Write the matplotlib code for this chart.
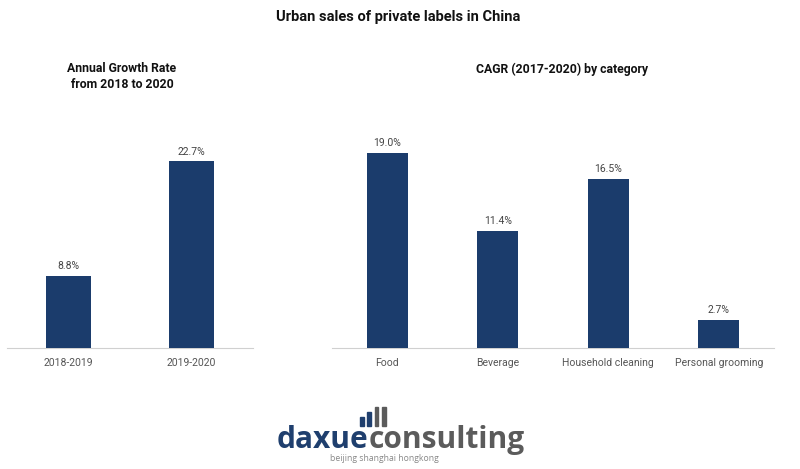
import matplotlib
matplotlib.use("Agg")
import matplotlib.pyplot as plt
from matplotlib.patches import Rectangle

plt.rcParams["font.family"] = ["Roboto", "DejaVu Sans"]

# ---- data ----
years = ["2018-2019", "2019-2020"]
growth = [8.8, 22.7]
categories = ["Food", "Beverage", "Household cleaning", "Personal grooming"]
cagr = [19.0, 11.4, 16.5, 2.7]

BAR = "#1b3c6c"
BASE = "#d0d0d0"
LAB = "#555555"

fig = plt.figure(figsize=(8, 4.69), dpi=100)
W, H = 800, 469


def px_axes(x0, x1, ytop, ybase):
    return fig.add_axes([x0 / W, (H - ybase) / H, (x1 - x0) / W, (ybase - ytop) / H])


def draw(ax, labels, vals, width, ytop):
    x = range(len(vals))
    bars = ax.bar(x, vals, width=width, color=BAR, zorder=3)
    ax.set_xlim(-0.5, len(vals) - 0.5)
    ax.set_ylim(0, ytop)
    ax.set_xticks(list(x))
    ax.set_xticklabels(labels, fontsize=7.5, color=LAB)
    ax.tick_params(axis="x", length=0, pad=7)
    ax.set_yticks([])
    for s in ("top", "right", "left"):
        ax.spines[s].set_visible(False)
    ax.spines["bottom"].set_color(BASE)
    ax.spines["bottom"].set_linewidth(0.8)
    for b, v in zip(bars, vals):
        ax.annotate(f"{v:.1f}%", (b.get_x() + b.get_width() / 2, v),
                    xytext=(0, 3.5), textcoords="offset points",
                    ha="center", va="bottom", fontsize=7.5, color="#444444")


axL = px_axes(7, 253, 120, 348)
draw(axL, years, growth, 0.36, 27.75)
axR = px_axes(332, 774, 120, 348)
draw(axR, categories, cagr, 0.367, 22.25)

fig.text(398 / W, 1 - 17 / H, "Urban sales of private labels in China",
         ha="center", va="center", fontsize=10.5, fontweight="bold", color="#111111")
fig.text(122 / W, 1 - 77 / H, "Annual Growth Rate\nfrom 2018 to 2020",
         ha="center", va="center", fontsize=8.8, fontweight="bold", color="#111111",
         linespacing=1.3)
fig.text(562 / W, 1 - 69 / H, "CAGR (2017-2020) by category",
         ha="center", va="center", fontsize=8.8, fontweight="bold", color="#111111")

# ---- logo ----
NAVY = "#1f3f6e"
GREY = "#5b5b5b"
LOGO = ["Open Sans", "DejaVu Sans"]
t1 = fig.text(277 / W, 1 - 448 / H, "daxue", ha="left", va="baseline",
              fontsize=21.5, fontweight="bold", color=NAVY, family=LOGO)
fig.canvas.draw()
bb = t1.get_window_extent()
fig.text(bb.x1 / W, 1 - 448 / H, "consulting", ha="left", va="baseline",
         fontsize=21.5, fontweight="bold", color=GREY, family=LOGO)
fig.text(330 / W, 1 - 458 / H, "beijing shanghai hongkong", ha="left", va="center",
         fontsize=6.2, color="#888888", family=LOGO)
for x0, w, top, c in [(360, 3.5, 417, NAVY), (367, 3.5, 412, NAVY),
                      (375, 2.5, 407, GREY), (382, 3.5, 407, GREY)]:
    fig.patches.append(Rectangle((x0 / W, (H - 426) / H), w / W, (426 - top) / H,
                                 transform=fig.transFigure, color=c, figure=fig))

fig.savefig("out.png", dpi=100)
